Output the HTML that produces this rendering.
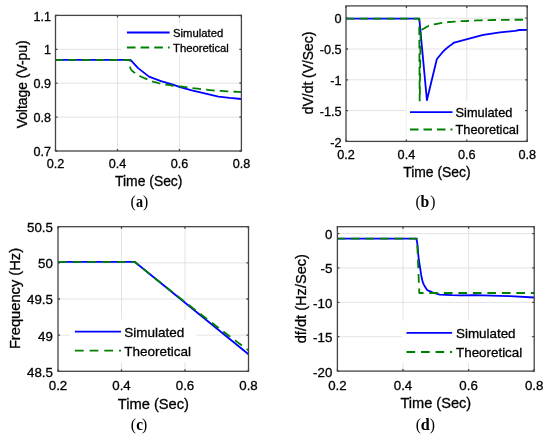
<!DOCTYPE html>
<html><head><meta charset="utf-8"><title>Figure</title>
<style>
html,body{margin:0;padding:0;background:#fff;}
svg{display:block;}
text{fill:#000;font-family:'Liberation Sans', Arial, sans-serif;stroke:#000;stroke-width:0.3px;}
text.cap{font-family:'Liberation Serif', 'Times New Roman', serif;stroke:none;}
</style></head>
<body>
<svg width="550" height="441" viewBox="0 0 550 441">
<rect width="550" height="441" fill="#fff"/>
<path d="M117.47 15.4V151M179.43 15.4V151M55.5 117.1H241.4M55.5 83.2H241.4M55.5 49.3H241.4" stroke="#e3e3e3" stroke-width="1" fill="none"/>
<path d="M55.5 59.9 L130.5 59.9 L138.1 68.1 L149 76.6 L161 81.2 L173 84.7 L180 87.2 L191.8 90.3 L203.6 93.2 L218.5 96.6 L229.6 97.9 L241.4 99" stroke="#0000ff" stroke-width="1.8" fill="none" stroke-linejoin="round"/>
<path d="M55.5 59.9 L130 59.9 L130 66.3 L130.07 66.67 L130.16 67.21 L130.29 67.82 L130.5 68.4 L130.76 68.93 L131.06 69.46 L131.46 70.01 L132 70.6 L132.72 71.24 L133.59 71.92 L134.54 72.62 L135.5 73.3 L136.38 73.94 L137.23 74.55 L138.22 75.19 L139.5 75.9 L141.26 76.75 L143.37 77.7 L145.49 78.62 L147.3 79.4 L148.57 79.96 L149.53 80.38 L150.49 80.75 L151.8 81.2 L153.64 81.77 L155.81 82.39 L158.03 83 L160 83.5 L161.58 83.86 L162.95 84.12 L164.32 84.35 L165.9 84.6 L167.84 84.91 L170 85.23 L172.16 85.54 L174.1 85.8 L175.6 85.97 L176.82 86.07 L178.16 86.19 L180 86.4 L182.54 86.73 L185.53 87.15 L188.71 87.59 L191.8 88 L194.75 88.37 L197.69 88.73 L200.64 89.07 L203.6 89.4 L206.57 89.73 L209.55 90.04 L212.53 90.34 L215.5 90.6 L218.4 90.81 L221.26 90.97 L224.19 91.13 L227.3 91.3 L230.99 91.51 L235.09 91.74 L238.81 91.95 L241.4 92.1" stroke="#008000" stroke-width="1.8" fill="none" stroke-dasharray="8.6 5.1" stroke-dashoffset="1.0" stroke-linejoin="round"/>
<rect x="122" y="23" width="117" height="32" fill="#fff"/>
<path d="M55.5 151v-2M55.5 15.4v2M117.47 151v-2M117.47 15.4v2M179.43 151v-2M179.43 15.4v2M241.4 151v-2M241.4 15.4v2M55.5 151h2M241.4 151h-2M55.5 117.1h2M241.4 117.1h-2M55.5 83.2h2M241.4 83.2h-2M55.5 49.3h2M241.4 49.3h-2M55.5 15.4h2M241.4 15.4h-2" stroke="#444444" stroke-width="1.3" fill="none"/>
<rect x="55.5" y="15.4" width="185.9" height="135.6" stroke="#444444" stroke-width="1.3" fill="none"/>
<text x="55.5" y="168.2" font-size="12.6" text-anchor="middle">0.2</text>
<text x="117.47" y="168.2" font-size="12.6" text-anchor="middle">0.4</text>
<text x="179.43" y="168.2" font-size="12.6" text-anchor="middle">0.6</text>
<text x="241.4" y="168.2" font-size="12.6" text-anchor="middle">0.8</text>
<text x="51" y="156.17" font-size="12.6" text-anchor="end">0.7</text>
<text x="51" y="122.27" font-size="12.6" text-anchor="end">0.8</text>
<text x="51" y="88.37" font-size="12.6" text-anchor="end">0.9</text>
<text x="51" y="54.47" font-size="12.6" text-anchor="end">1</text>
<text x="51" y="20.57" font-size="12.6" text-anchor="end">1.1</text>
<text x="148.75" y="185.8" font-size="13.9" text-anchor="middle">Time (Sec)</text>
<text transform="translate(27 84.35) rotate(-90)" font-size="13.9" text-anchor="middle">Voltage (V-pu)</text>
<path d="M126.9 32.5H169.6" stroke="#0000ff" stroke-width="1.8"/>
<path d="M126.9 47.5H169.6" stroke="#008000" stroke-width="1.8" stroke-dasharray="8.6 5.1"/>
<text x="173" y="36.9" font-size="11.3">Simulated</text>
<text x="173" y="51.9" font-size="11.3">Theoretical</text>
<text class="cap" x="130.59" y="206.5" font-size="15.7">(</text>
<text class="cap" x="143.05" y="206.5" font-size="15.7">)</text>
<text class="cap" transform="translate(139.45 206.5) scale(0.9 1)" font-size="15.7" font-weight="bold" text-anchor="middle">a</text>
<path d="M406.4 5.9V141.4M466.8 5.9V141.4M346 110.6H527.2M346 79.81H527.2M346 49.01H527.2M346 18.22H527.2" stroke="#e3e3e3" stroke-width="1" fill="none"/>
<path d="M346 18.7 L419.3 18.7 L426.9 100.2 L436.8 59.2 L437.95 57.77 L439.61 55.7 L441.44 53.48 L443.1 51.6 L444.51 50.19 L445.84 48.99 L447.15 47.89 L448.5 46.8 L450.04 45.61 L451.69 44.4 L453.17 43.34 L454.2 42.6 L466.3 39.3 L483.3 34.8 L500 32.4 L515 30.9 L519.5 30 L527.2 29.8" stroke="#0000ff" stroke-width="1.8" fill="none" stroke-linejoin="round"/>
<path d="M346 18.7 L419.2 18.7 L419.7 108 L420.6 30.6" stroke="#008000" stroke-width="1.8" fill="none" stroke-dasharray="8.5 5" stroke-dashoffset="0" stroke-linejoin="round"/>
<path d="M420.6 30.5 L422.17 29.55 L424.44 28.17 L426.87 26.76 L428.9 25.7 L430.27 25.16 L431.32 24.91 L432.39 24.75 L433.8 24.5 L435.79 24.08 L438.14 23.61 L440.5 23.16 L442.5 22.8 L443.92 22.57 L445 22.44 L446.08 22.33 L447.5 22.2 L449.5 22.02 L451.86 21.83 L454.21 21.65 L456.2 21.5 L457.61 21.4 L458.68 21.33 L459.73 21.27 L461.1 21.2 L462.86 21.13 L464.84 21.07 L467 21 L469.3 20.9 L471.58 20.77 L473.91 20.61 L476.61 20.44 L480 20.3 L484.18 20.18 L488.97 20.07 L494.28 19.98 L500 19.9 L506.93 19.83 L514.85 19.77 L522.14 19.73 L527.2 19.7" stroke="#008000" stroke-width="1.8" fill="none" stroke-dasharray="8.5 5" stroke-dashoffset="-1.2" stroke-linejoin="round"/>
<rect x="406.5" y="101.2" width="118.5" height="39.8" fill="#fff"/>
<path d="M346 141.4v-2M346 5.9v2M406.4 141.4v-2M406.4 5.9v2M466.8 141.4v-2M466.8 5.9v2M527.2 141.4v-2M527.2 5.9v2M346 141.4h2M527.2 141.4h-2M346 110.6h2M527.2 110.6h-2M346 79.81h2M527.2 79.81h-2M346 49.01h2M527.2 49.01h-2M346 18.22h2M527.2 18.22h-2" stroke="#444444" stroke-width="1.3" fill="none"/>
<rect x="346" y="5.9" width="181.2" height="135.5" stroke="#444444" stroke-width="1.3" fill="none"/>
<text x="346" y="159" font-size="12.7" text-anchor="middle">0.2</text>
<text x="406.4" y="159" font-size="12.7" text-anchor="middle">0.4</text>
<text x="466.8" y="159" font-size="12.7" text-anchor="middle">0.6</text>
<text x="527.2" y="159" font-size="12.7" text-anchor="middle">0.8</text>
<text x="341.6" y="146.61" font-size="12.7" text-anchor="end">-2</text>
<text x="341.6" y="115.81" font-size="12.7" text-anchor="end">-1.5</text>
<text x="341.6" y="85.02" font-size="12.7" text-anchor="end">-1</text>
<text x="341.6" y="54.22" font-size="12.7" text-anchor="end">-0.5</text>
<text x="341.6" y="23.43" font-size="12.7" text-anchor="end">0</text>
<text x="436.95" y="176.6" font-size="13.9" text-anchor="middle">Time (Sec)</text>
<text transform="translate(313.2 72.9) rotate(-90)" font-size="13.9" text-anchor="middle">dV/dt (V/Sec)</text>
<path d="M410 112.1H452.5" stroke="#0000ff" stroke-width="1.8"/>
<path d="M410 129.5H452.5" stroke="#008000" stroke-width="1.8" stroke-dasharray="8.5 5"/>
<text x="455.5" y="116.8" font-size="12.8">Simulated</text>
<text x="455.5" y="134.2" font-size="12.8">Theoretical</text>
<text class="cap" x="415.39" y="206.5" font-size="15.7">(</text>
<text class="cap" x="430.15" y="206.5" font-size="15.7">)</text>
<text class="cap" transform="translate(424.85 206.5) scale(1.0 1)" font-size="15.7" font-weight="bold" text-anchor="middle">b</text>
<path d="M121.5 226.7V371.3M185 226.7V371.3M58 335.15H248.5M58 299H248.5M58 262.85H248.5" stroke="#e3e3e3" stroke-width="1" fill="none"/>
<path d="M58 261.8 L134.6 261.8 L248.5 354.3" stroke="#0000ff" stroke-width="1.8" fill="none" stroke-linejoin="round"/>
<path d="M58 261.8 L134.6 261.8" stroke="#008000" stroke-width="1.8" fill="none" stroke-dasharray="8.8 5.9" stroke-dashoffset="0" stroke-linejoin="round"/>
<path d="M134.6 261.8 L138.53 264.99 L142.46 268.16 L146.38 271.33 L150.31 274.48 L154.24 277.63 L158.17 280.77 L162.09 283.9 L166.02 287.02 L169.95 290.13 L173.88 293.23 L177.8 296.33 L181.73 299.41 L185.66 302.48 L189.59 305.55 L193.51 308.6 L197.44 311.65 L201.37 314.68 L205.3 317.71 L209.22 320.73 L213.15 323.74 L217.08 326.74 L221.01 329.73 L224.93 332.71 L228.86 335.68 L232.79 338.64 L236.72 341.6 L240.64 344.54 L244.57 347.47 L248.5 350.4" stroke="#008000" stroke-width="1.8" fill="none" stroke-dasharray="8.7 5.85" stroke-dashoffset="3.55" stroke-linejoin="round"/>
<rect x="69.6" y="319.5" width="126.9" height="42.5" fill="#fff"/>
<path d="M58 371.3v-2M58 226.7v2M121.5 371.3v-2M121.5 226.7v2M185 371.3v-2M185 226.7v2M248.5 371.3v-2M248.5 226.7v2M58 371.3h2M248.5 371.3h-2M58 335.15h2M248.5 335.15h-2M58 299h2M248.5 299h-2M58 262.85h2M248.5 262.85h-2M58 226.7h2M248.5 226.7h-2" stroke="#444444" stroke-width="1.3" fill="none"/>
<rect x="58" y="226.7" width="190.5" height="144.6" stroke="#444444" stroke-width="1.3" fill="none"/>
<text x="58" y="390" font-size="13.3" text-anchor="middle">0.2</text>
<text x="121.5" y="390" font-size="13.3" text-anchor="middle">0.4</text>
<text x="185" y="390" font-size="13.3" text-anchor="middle">0.6</text>
<text x="248.5" y="390" font-size="13.3" text-anchor="middle">0.8</text>
<text x="52.9" y="376.72" font-size="13.3" text-anchor="end">48.5</text>
<text x="52.9" y="340.57" font-size="13.3" text-anchor="end">49</text>
<text x="52.9" y="304.42" font-size="13.3" text-anchor="end">49.5</text>
<text x="52.9" y="268.27" font-size="13.3" text-anchor="end">50</text>
<text x="52.9" y="232.12" font-size="13.3" text-anchor="end">50.5</text>
<text x="153.35" y="408.7" font-size="14.7" text-anchor="middle">Time (Sec)</text>
<text transform="translate(20.4 298.5) rotate(-90)" font-size="14.7" text-anchor="middle">Frequency (Hz)</text>
<path d="M74.9 331.6H121" stroke="#0000ff" stroke-width="1.8"/>
<path d="M74.9 350.6H121" stroke="#008000" stroke-width="1.8" stroke-dasharray="8.8 5.9"/>
<text x="124.2" y="336.6" font-size="13.5">Simulated</text>
<text x="124.2" y="355.6" font-size="13.5">Theoretical</text>
<text class="cap" x="130.69" y="430" font-size="15.7">(</text>
<text class="cap" x="142.05" y="430" font-size="15.7">)</text>
<text class="cap" transform="translate(139.6 430) scale(0.97 1)" font-size="15.7" font-weight="bold" text-anchor="middle">c</text>
<path d="M403 226.7V371.1M468.6 226.7V371.1M337.4 336.72H534.2M337.4 302.34H534.2M337.4 267.96H534.2M337.4 233.58H534.2" stroke="#e3e3e3" stroke-width="1" fill="none"/>
<path d="M337.4 238.7 L416.4 238.7 L416.7 240.2 L417.11 242.39 L417.5 245 L417.79 248.17 L418.04 251.75 L418.3 255 L418.59 257.58 L418.89 259.83 L419.2 262 L419.51 264.03 L419.83 265.99 L420.2 268.3 L420.64 271.34 L421.14 274.73 L421.7 277.8 L422.27 280.24 L422.9 282.37 L423.7 284.4 L424.91 286.61 L426.31 288.73 L427.3 290.2 L432.4 292.3 L439.6 294.6 L452 295.2 L460 295.3 L475 295.2 L500 295.8 L510 296.2 L534.2 297.5" stroke="#0000ff" stroke-width="1.8" fill="none" stroke-linejoin="round"/>
<path d="M337.4 238.7 L417 238.7 L419.3 293 L534.2 293" stroke="#008000" stroke-width="1.8" fill="none" stroke-dasharray="8.7 5.8" stroke-dashoffset="1.0" stroke-linejoin="round"/>
<rect x="401.8" y="320.6" width="128.2" height="42.4" fill="#fff"/>
<path d="M337.4 371.1v-2M337.4 226.7v2M403 371.1v-2M403 226.7v2M468.6 371.1v-2M468.6 226.7v2M534.2 371.1v-2M534.2 226.7v2M337.4 371.1h2M534.2 371.1h-2M337.4 336.72h2M534.2 336.72h-2M337.4 302.34h2M534.2 302.34h-2M337.4 267.96h2M534.2 267.96h-2M337.4 233.58h2M534.2 233.58h-2" stroke="#444444" stroke-width="1.3" fill="none"/>
<rect x="337.4" y="226.7" width="196.8" height="144.4" stroke="#444444" stroke-width="1.3" fill="none"/>
<text x="337.4" y="390" font-size="13.3" text-anchor="middle">0.2</text>
<text x="403" y="390" font-size="13.3" text-anchor="middle">0.4</text>
<text x="468.6" y="390" font-size="13.3" text-anchor="middle">0.6</text>
<text x="534.2" y="390" font-size="13.3" text-anchor="middle">0.8</text>
<text x="332.3" y="376.52" font-size="13.3" text-anchor="end">-20</text>
<text x="332.3" y="342.14" font-size="13.3" text-anchor="end">-15</text>
<text x="332.3" y="307.76" font-size="13.3" text-anchor="end">-10</text>
<text x="332.3" y="273.38" font-size="13.3" text-anchor="end">-5</text>
<text x="332.3" y="239" font-size="13.3" text-anchor="end">0</text>
<text x="435.8" y="408.4" font-size="14.6" text-anchor="middle">Time (Sec)</text>
<text transform="translate(306.3 298.65) rotate(-90)" font-size="14.6" text-anchor="middle">df/dt (Hz/Sec)</text>
<path d="M406.5 332.9H452.1" stroke="#0000ff" stroke-width="1.8"/>
<path d="M406.5 352.0H452.1" stroke="#008000" stroke-width="1.8" stroke-dasharray="8.7 5.8"/>
<text x="456" y="337.8" font-size="13.4">Simulated</text>
<text x="456" y="356.9" font-size="13.4">Theoretical</text>
<text class="cap" x="415.69" y="429.5" font-size="15.7">(</text>
<text class="cap" x="429.75" y="429.5" font-size="15.7">)</text>
<text class="cap" transform="translate(425.35 429.5) scale(1.03 1)" font-size="15.7" font-weight="bold" text-anchor="middle">d</text>
</svg>
</body></html>
